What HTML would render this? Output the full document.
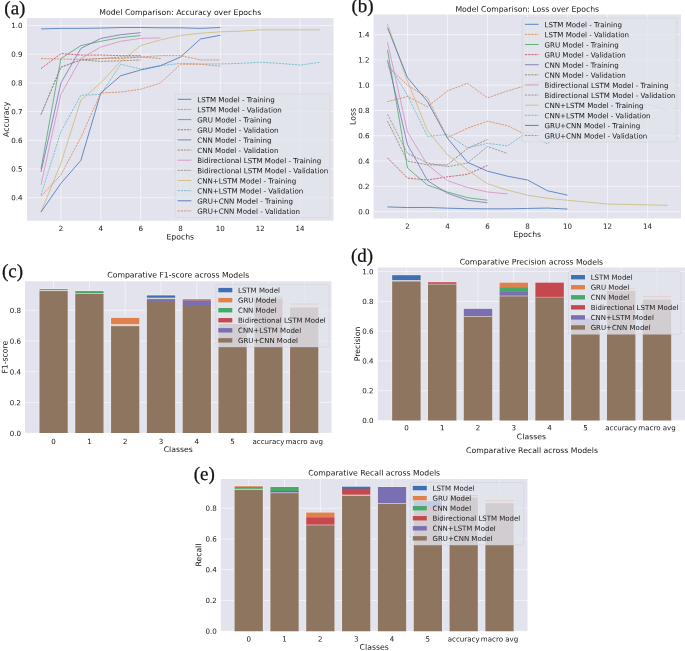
<!DOCTYPE html>
<html lang="en"><head><meta charset="utf-8"><title>Model comparison figure</title>
<style>
html,body{margin:0;padding:0;background:#fff;}
body{width:685px;height:651px;overflow:hidden;}
.pl{font-family:"Liberation Serif","Times New Roman",serif;font-size:19px;fill:#111;stroke:#111;stroke-width:0.25px;}
svg{display:block;filter:blur(0.3px);text-rendering:geometricPrecision;font-family:"DejaVu Sans","Liberation Sans",sans-serif;fill:#161616;}
</style></head><body>
<svg width="685" height="651" viewBox="0 0 685 651">
<rect width="685" height="651" fill="#fff"/>
<rect x="27" y="18" width="306.5" height="202.7" fill="#e2e3ec"/>
<line x1="60.93" y1="18" x2="60.93" y2="220.7" stroke="#fff" stroke-opacity="0.85" stroke-width="0.65"/>
<text transform="translate(60.93 231.00) rotate(0.03)" font-size="7.1" text-anchor="middle" >2</text>
<line x1="100.79" y1="18" x2="100.79" y2="220.7" stroke="#fff" stroke-opacity="0.85" stroke-width="0.65"/>
<text transform="translate(100.79 231.00) rotate(0.03)" font-size="7.1" text-anchor="middle" >4</text>
<line x1="140.65" y1="18" x2="140.65" y2="220.7" stroke="#fff" stroke-opacity="0.85" stroke-width="0.65"/>
<text transform="translate(140.65 231.00) rotate(0.03)" font-size="7.1" text-anchor="middle" >6</text>
<line x1="180.51" y1="18" x2="180.51" y2="220.7" stroke="#fff" stroke-opacity="0.85" stroke-width="0.65"/>
<text transform="translate(180.51 231.00) rotate(0.03)" font-size="7.1" text-anchor="middle" >8</text>
<line x1="220.37" y1="18" x2="220.37" y2="220.7" stroke="#fff" stroke-opacity="0.85" stroke-width="0.65"/>
<text transform="translate(220.37 231.00) rotate(0.03)" font-size="7.1" text-anchor="middle" >10</text>
<line x1="260.23" y1="18" x2="260.23" y2="220.7" stroke="#fff" stroke-opacity="0.85" stroke-width="0.65"/>
<text transform="translate(260.23 231.00) rotate(0.03)" font-size="7.1" text-anchor="middle" >12</text>
<line x1="300.09" y1="18" x2="300.09" y2="220.7" stroke="#fff" stroke-opacity="0.85" stroke-width="0.65"/>
<text transform="translate(300.09 231.00) rotate(0.03)" font-size="7.1" text-anchor="middle" >14</text>
<line x1="27" y1="197.70" x2="333.5" y2="197.70" stroke="#fff" stroke-opacity="0.85" stroke-width="0.65"/>
<text transform="translate(22.50 200.30) rotate(0.03)" font-size="7.1" text-anchor="end" >0.4</text>
<line x1="27" y1="169.00" x2="333.5" y2="169.00" stroke="#fff" stroke-opacity="0.85" stroke-width="0.65"/>
<text transform="translate(22.50 171.60) rotate(0.03)" font-size="7.1" text-anchor="end" >0.5</text>
<line x1="27" y1="140.30" x2="333.5" y2="140.30" stroke="#fff" stroke-opacity="0.85" stroke-width="0.65"/>
<text transform="translate(22.50 142.90) rotate(0.03)" font-size="7.1" text-anchor="end" >0.6</text>
<line x1="27" y1="111.60" x2="333.5" y2="111.60" stroke="#fff" stroke-opacity="0.85" stroke-width="0.65"/>
<text transform="translate(22.50 114.20) rotate(0.03)" font-size="7.1" text-anchor="end" >0.7</text>
<line x1="27" y1="82.90" x2="333.5" y2="82.90" stroke="#fff" stroke-opacity="0.85" stroke-width="0.65"/>
<text transform="translate(22.50 85.50) rotate(0.03)" font-size="7.1" text-anchor="end" >0.8</text>
<line x1="27" y1="54.20" x2="333.5" y2="54.20" stroke="#fff" stroke-opacity="0.85" stroke-width="0.65"/>
<text transform="translate(22.50 56.80) rotate(0.03)" font-size="7.1" text-anchor="end" >0.9</text>
<line x1="27" y1="25.50" x2="333.5" y2="25.50" stroke="#fff" stroke-opacity="0.85" stroke-width="0.65"/>
<text transform="translate(22.50 28.10) rotate(0.03)" font-size="7.1" text-anchor="end" >1.0</text>
<g fill="none" stroke-width="0.78" stroke-linejoin="round">
<polyline points="41.00,28.94 60.93,28.37 80.86,28.37 100.79,28.08 120.72,27.51 140.65,27.51 160.58,27.80 180.51,27.80 200.44,28.37 220.37,27.51" stroke="#4070b4"/>
<polyline points="41.00,58.50 60.93,59.08 80.86,59.37 100.79,58.50 120.72,58.50 140.65,57.07 160.58,55.63 180.51,55.63 200.44,59.94 220.37,59.94" stroke="#df814c" stroke-dasharray="2.2 1"/>
<polyline points="41.00,169.00 60.93,58.50 80.86,45.59 100.79,41.29 120.72,37.55 140.65,35.55" stroke="#48a868"/>
<polyline points="41.00,68.55 60.93,53.63 80.86,55.06 100.79,55.06 120.72,55.63 140.65,55.63" stroke="#c6484f" stroke-dasharray="2.2 1"/>
<polyline points="41.00,171.87 60.93,82.90 80.86,48.46 100.79,38.42 120.72,34.68 140.65,32.68" stroke="#7a6fb2"/>
<polyline points="41.00,114.47 60.93,67.12 80.86,59.94 100.79,61.38 120.72,60.80 140.65,59.94" stroke="#937860" stroke-dasharray="2.2 1"/>
<polyline points="41.00,184.78 60.93,94.38 80.86,58.50 100.79,47.02 120.72,41.29 140.65,38.42 160.58,37.84" stroke="#da8bc3"/>
<polyline points="41.00,114.47 60.93,67.12 80.86,59.94 100.79,58.50 120.72,57.07 140.65,57.07 160.58,58.50" stroke="#8c8c8c" stroke-dasharray="2.2 1"/>
<polyline points="41.00,212.05 60.93,163.26 80.86,100.12 100.79,82.90 120.72,61.38 140.65,45.59 160.58,39.85 180.51,35.55 200.44,33.25 220.37,31.81 240.30,31.24 260.23,29.81 280.16,29.81 300.09,29.81 320.02,29.81" stroke="#ccb974"/>
<polyline points="41.00,194.83 60.93,131.69 80.86,95.24 100.79,94.38 120.72,64.25 140.65,69.12 160.58,65.68 180.51,63.38 200.44,63.96 220.37,63.96 240.30,63.38 260.23,62.24 280.16,63.38 300.09,65.11 320.02,62.24" stroke="#64b5cd" stroke-dasharray="2.2 1"/>
<polyline points="41.00,212.05 60.93,183.35 80.86,160.39 100.79,92.94 120.72,75.73 140.65,69.99 160.58,65.68 180.51,57.07 200.44,38.99 220.37,35.26" stroke="#4070b4"/>
<polyline points="41.00,196.26 60.93,174.74 80.86,137.43 100.79,92.94 120.72,92.08 140.65,89.21 160.58,82.90 180.51,64.25 200.44,64.25 220.37,66.25" stroke="#df814c" stroke-dasharray="2.2 1"/>
</g>
<rect x="175" y="94" width="155" height="123.5" rx="1.5" fill="#e2e3ec" fill-opacity="0.8" stroke="#cfcfd6" stroke-width="0.5"/>
<line x1="177.70" y1="99.30" x2="191.30" y2="99.30" stroke="#4070b4" stroke-width="0.85"/>
<text transform="translate(197.20 102.20) rotate(0.03)" font-size="7.1" text-anchor="start" >LSTM Model - Training</text>
<line x1="177.70" y1="109.45" x2="191.30" y2="109.45" stroke="#df814c" stroke-width="0.85" stroke-dasharray="2.2 1"/>
<text transform="translate(197.20 112.35) rotate(0.03)" font-size="7.1" text-anchor="start" >LSTM Model - Validation</text>
<line x1="177.70" y1="119.60" x2="191.30" y2="119.60" stroke="#48a868" stroke-width="0.85"/>
<text transform="translate(197.20 122.50) rotate(0.03)" font-size="7.1" text-anchor="start" >GRU Model - Training</text>
<line x1="177.70" y1="129.75" x2="191.30" y2="129.75" stroke="#c6484f" stroke-width="0.85" stroke-dasharray="2.2 1"/>
<text transform="translate(197.20 132.65) rotate(0.03)" font-size="7.1" text-anchor="start" >GRU Model - Validation</text>
<line x1="177.70" y1="139.90" x2="191.30" y2="139.90" stroke="#7a6fb2" stroke-width="0.85"/>
<text transform="translate(197.20 142.80) rotate(0.03)" font-size="7.1" text-anchor="start" >CNN Model - Training</text>
<line x1="177.70" y1="150.05" x2="191.30" y2="150.05" stroke="#937860" stroke-width="0.85" stroke-dasharray="2.2 1"/>
<text transform="translate(197.20 152.95) rotate(0.03)" font-size="7.1" text-anchor="start" >CNN Model - Validation</text>
<line x1="177.70" y1="160.20" x2="191.30" y2="160.20" stroke="#da8bc3" stroke-width="0.85"/>
<text transform="translate(197.20 163.10) rotate(0.03)" font-size="7.1" text-anchor="start" >Bidirectional LSTM Model - Training</text>
<line x1="177.70" y1="170.35" x2="191.30" y2="170.35" stroke="#8c8c8c" stroke-width="0.85" stroke-dasharray="2.2 1"/>
<text transform="translate(197.20 173.25) rotate(0.03)" font-size="7.1" text-anchor="start" >Bidirectional LSTM Model - Validation</text>
<line x1="177.70" y1="180.50" x2="191.30" y2="180.50" stroke="#ccb974" stroke-width="0.85"/>
<text transform="translate(197.20 183.40) rotate(0.03)" font-size="7.1" text-anchor="start" >CNN+LSTM Model - Training</text>
<line x1="177.70" y1="190.65" x2="191.30" y2="190.65" stroke="#64b5cd" stroke-width="0.85" stroke-dasharray="2.2 1"/>
<text transform="translate(197.20 193.55) rotate(0.03)" font-size="7.1" text-anchor="start" >CNN+LSTM Model - Validation</text>
<line x1="177.70" y1="200.80" x2="191.30" y2="200.80" stroke="#4070b4" stroke-width="0.85"/>
<text transform="translate(197.20 203.70) rotate(0.03)" font-size="7.1" text-anchor="start" >GRU+CNN Model - Training</text>
<line x1="177.70" y1="210.95" x2="191.30" y2="210.95" stroke="#df814c" stroke-width="0.85" stroke-dasharray="2.2 1"/>
<text transform="translate(197.20 213.85) rotate(0.03)" font-size="7.1" text-anchor="start" >GRU+CNN Model - Validation</text>
<text transform="translate(180.25 14.90) rotate(0.03)" font-size="7.72" text-anchor="middle" >Model Comparison: Accuracy over Epochs</text>
<text transform="translate(180.25 239.50) rotate(0.03)" font-size="7.72" text-anchor="middle" >Epochs</text>
<text transform="translate(8.8,119.35) rotate(-89.97)" font-size="7.72" text-anchor="middle">Accuracy</text>
<rect x="373.5" y="14.5" width="307.5" height="204.0" fill="#e2e3ec"/>
<line x1="407.50" y1="14.5" x2="407.50" y2="218.5" stroke="#fff" stroke-opacity="0.85" stroke-width="0.65"/>
<text transform="translate(407.50 228.70) rotate(0.03)" font-size="7.1" text-anchor="middle" >2</text>
<line x1="447.50" y1="14.5" x2="447.50" y2="218.5" stroke="#fff" stroke-opacity="0.85" stroke-width="0.65"/>
<text transform="translate(447.50 228.70) rotate(0.03)" font-size="7.1" text-anchor="middle" >4</text>
<line x1="487.50" y1="14.5" x2="487.50" y2="218.5" stroke="#fff" stroke-opacity="0.85" stroke-width="0.65"/>
<text transform="translate(487.50 228.70) rotate(0.03)" font-size="7.1" text-anchor="middle" >6</text>
<line x1="527.50" y1="14.5" x2="527.50" y2="218.5" stroke="#fff" stroke-opacity="0.85" stroke-width="0.65"/>
<text transform="translate(527.50 228.70) rotate(0.03)" font-size="7.1" text-anchor="middle" >8</text>
<line x1="567.50" y1="14.5" x2="567.50" y2="218.5" stroke="#fff" stroke-opacity="0.85" stroke-width="0.65"/>
<text transform="translate(567.50 228.70) rotate(0.03)" font-size="7.1" text-anchor="middle" >10</text>
<line x1="607.50" y1="14.5" x2="607.50" y2="218.5" stroke="#fff" stroke-opacity="0.85" stroke-width="0.65"/>
<text transform="translate(607.50 228.70) rotate(0.03)" font-size="7.1" text-anchor="middle" >12</text>
<line x1="647.50" y1="14.5" x2="647.50" y2="218.5" stroke="#fff" stroke-opacity="0.85" stroke-width="0.65"/>
<text transform="translate(647.50 228.70) rotate(0.03)" font-size="7.1" text-anchor="middle" >14</text>
<line x1="373.5" y1="211.60" x2="681" y2="211.60" stroke="#fff" stroke-opacity="0.85" stroke-width="0.65"/>
<text transform="translate(369.50 214.20) rotate(0.03)" font-size="7.1" text-anchor="end" >0.0</text>
<line x1="373.5" y1="186.32" x2="681" y2="186.32" stroke="#fff" stroke-opacity="0.85" stroke-width="0.65"/>
<text transform="translate(369.50 188.92) rotate(0.03)" font-size="7.1" text-anchor="end" >0.2</text>
<line x1="373.5" y1="161.04" x2="681" y2="161.04" stroke="#fff" stroke-opacity="0.85" stroke-width="0.65"/>
<text transform="translate(369.50 163.64) rotate(0.03)" font-size="7.1" text-anchor="end" >0.4</text>
<line x1="373.5" y1="135.76" x2="681" y2="135.76" stroke="#fff" stroke-opacity="0.85" stroke-width="0.65"/>
<text transform="translate(369.50 138.36) rotate(0.03)" font-size="7.1" text-anchor="end" >0.6</text>
<line x1="373.5" y1="110.48" x2="681" y2="110.48" stroke="#fff" stroke-opacity="0.85" stroke-width="0.65"/>
<text transform="translate(369.50 113.08) rotate(0.03)" font-size="7.1" text-anchor="end" >0.8</text>
<line x1="373.5" y1="85.20" x2="681" y2="85.20" stroke="#fff" stroke-opacity="0.85" stroke-width="0.65"/>
<text transform="translate(369.50 87.80) rotate(0.03)" font-size="7.1" text-anchor="end" >1.0</text>
<line x1="373.5" y1="59.92" x2="681" y2="59.92" stroke="#fff" stroke-opacity="0.85" stroke-width="0.65"/>
<text transform="translate(369.50 62.52) rotate(0.03)" font-size="7.1" text-anchor="end" >1.2</text>
<line x1="373.5" y1="34.64" x2="681" y2="34.64" stroke="#fff" stroke-opacity="0.85" stroke-width="0.65"/>
<text transform="translate(369.50 37.24) rotate(0.03)" font-size="7.1" text-anchor="end" >1.4</text>
<g fill="none" stroke-width="0.78" stroke-linejoin="round">
<polyline points="387.50,206.92 407.50,207.56 427.50,207.43 447.50,208.19 467.50,208.69 487.50,208.82 507.50,208.82 527.50,208.44 547.50,208.06 567.50,209.07" stroke="#4070b4"/>
<polyline points="387.50,101.63 407.50,96.58 427.50,106.69 447.50,90.89 467.50,83.30 487.50,97.84 507.50,90.89 527.50,85.20 547.50,80.14 567.50,75.09" stroke="#df814c" stroke-dasharray="2.2 1"/>
<polyline points="387.50,49.81 407.50,167.99 427.50,185.06 447.50,192.01 467.50,197.70 487.50,200.22" stroke="#48a868"/>
<polyline points="387.50,157.88 407.50,178.10 427.50,180.00 447.50,176.84 467.50,174.31 487.50,165.46" stroke="#c6484f" stroke-dasharray="2.2 1"/>
<polyline points="387.50,59.92 407.50,144.61 427.50,180.63 447.50,193.27 467.50,200.22 487.50,202.75" stroke="#7a6fb2"/>
<polyline points="387.50,121.22 407.50,161.04 427.50,164.83 447.50,164.83 467.50,148.40 487.50,139.55" stroke="#937860" stroke-dasharray="2.2 1"/>
<polyline points="387.50,42.22 407.50,131.97 427.50,164.83 447.50,180.63 467.50,187.58 487.50,192.01 507.50,193.90" stroke="#da8bc3"/>
<polyline points="387.50,114.27 407.50,153.46 427.50,162.94 447.50,166.73 467.50,162.94 487.50,146.50 507.50,153.46" stroke="#8c8c8c" stroke-dasharray="2.2 1"/>
<polyline points="387.50,23.90 407.50,81.41 427.50,130.70 447.50,154.72 467.50,169.89 487.50,183.79 507.50,190.11 527.50,195.17 547.50,198.33 567.50,200.22 587.50,202.12 607.50,204.02 627.50,204.40 647.50,204.90 667.50,205.28" stroke="#ccb974"/>
<polyline points="387.50,62.45 407.50,95.31 427.50,136.39 447.50,134.50 467.50,147.77 487.50,143.34 507.50,145.87 527.50,131.97 547.50,143.98 567.50,125.02 587.50,116.80 607.50,110.48 627.50,106.69 647.50,104.16 667.50,110.48" stroke="#64b5cd" stroke-dasharray="2.2 1"/>
<polyline points="387.50,27.69 407.50,77.62 427.50,101.63 447.50,138.29 467.50,162.30 487.50,171.15 507.50,176.21 527.50,180.00 547.50,190.74 567.50,195.17" stroke="#4070b4"/>
<polyline points="387.50,66.24 407.50,85.20 427.50,97.84 447.50,137.66 467.50,128.18 487.50,121.22 507.50,125.65 527.50,135.76 547.50,128.18 567.50,123.12" stroke="#df814c" stroke-dasharray="2.2 1"/>
</g>
<rect x="522.3" y="18" width="154.5" height="124" rx="1.5" fill="#e2e3ec" fill-opacity="0.8" stroke="#cfcfd6" stroke-width="0.5"/>
<line x1="525.00" y1="24.30" x2="538.60" y2="24.30" stroke="#4070b4" stroke-width="0.85"/>
<text transform="translate(544.50 27.20) rotate(0.03)" font-size="7.1" text-anchor="start" >LSTM Model - Training</text>
<line x1="525.00" y1="34.41" x2="538.60" y2="34.41" stroke="#df814c" stroke-width="0.85" stroke-dasharray="2.2 1"/>
<text transform="translate(544.50 37.31) rotate(0.03)" font-size="7.1" text-anchor="start" >LSTM Model - Validation</text>
<line x1="525.00" y1="44.52" x2="538.60" y2="44.52" stroke="#48a868" stroke-width="0.85"/>
<text transform="translate(544.50 47.42) rotate(0.03)" font-size="7.1" text-anchor="start" >GRU Model - Training</text>
<line x1="525.00" y1="54.63" x2="538.60" y2="54.63" stroke="#c6484f" stroke-width="0.85" stroke-dasharray="2.2 1"/>
<text transform="translate(544.50 57.53) rotate(0.03)" font-size="7.1" text-anchor="start" >GRU Model - Validation</text>
<line x1="525.00" y1="64.74" x2="538.60" y2="64.74" stroke="#7a6fb2" stroke-width="0.85"/>
<text transform="translate(544.50 67.64) rotate(0.03)" font-size="7.1" text-anchor="start" >CNN Model - Training</text>
<line x1="525.00" y1="74.85" x2="538.60" y2="74.85" stroke="#937860" stroke-width="0.85" stroke-dasharray="2.2 1"/>
<text transform="translate(544.50 77.75) rotate(0.03)" font-size="7.1" text-anchor="start" >CNN Model - Validation</text>
<line x1="525.00" y1="84.96" x2="538.60" y2="84.96" stroke="#da8bc3" stroke-width="0.85"/>
<text transform="translate(544.50 87.86) rotate(0.03)" font-size="7.1" text-anchor="start" >Bidirectional LSTM Model - Training</text>
<line x1="525.00" y1="95.07" x2="538.60" y2="95.07" stroke="#8c8c8c" stroke-width="0.85" stroke-dasharray="2.2 1"/>
<text transform="translate(544.50 97.97) rotate(0.03)" font-size="7.1" text-anchor="start" >Bidirectional LSTM Model - Validation</text>
<line x1="525.00" y1="105.18" x2="538.60" y2="105.18" stroke="#ccb974" stroke-width="0.85"/>
<text transform="translate(544.50 108.08) rotate(0.03)" font-size="7.1" text-anchor="start" >CNN+LSTM Model - Training</text>
<line x1="525.00" y1="115.29" x2="538.60" y2="115.29" stroke="#64b5cd" stroke-width="0.85" stroke-dasharray="2.2 1"/>
<text transform="translate(544.50 118.19) rotate(0.03)" font-size="7.1" text-anchor="start" >CNN+LSTM Model - Validation</text>
<line x1="525.00" y1="125.40" x2="538.60" y2="125.40" stroke="#4070b4" stroke-width="0.85"/>
<text transform="translate(544.50 128.30) rotate(0.03)" font-size="7.1" text-anchor="start" >GRU+CNN Model - Training</text>
<line x1="525.00" y1="135.51" x2="538.60" y2="135.51" stroke="#df814c" stroke-width="0.85" stroke-dasharray="2.2 1"/>
<text transform="translate(544.50 138.41) rotate(0.03)" font-size="7.1" text-anchor="start" >GRU+CNN Model - Validation</text>
<text transform="translate(527.25 11.80) rotate(0.03)" font-size="7.72" text-anchor="middle" >Model Comparison: Loss over Epochs</text>
<text transform="translate(527.25 237.00) rotate(0.03)" font-size="7.72" text-anchor="middle" >Epochs</text>
<text transform="translate(355.5,116.50) rotate(-89.97)" font-size="7.72" text-anchor="middle">Loss</text>
<rect x="25" y="281.3" width="306.5" height="151.7" fill="#e2e3ec"/>
<line x1="53.60" y1="281.3" x2="53.60" y2="433" stroke="#fff" stroke-opacity="0.85" stroke-width="0.65"/>
<text transform="translate(53.60 444.00) rotate(0.03)" font-size="7.1" text-anchor="middle" >0</text>
<line x1="89.40" y1="281.3" x2="89.40" y2="433" stroke="#fff" stroke-opacity="0.85" stroke-width="0.65"/>
<text transform="translate(89.40 444.00) rotate(0.03)" font-size="7.1" text-anchor="middle" >1</text>
<line x1="125.20" y1="281.3" x2="125.20" y2="433" stroke="#fff" stroke-opacity="0.85" stroke-width="0.65"/>
<text transform="translate(125.20 444.00) rotate(0.03)" font-size="7.1" text-anchor="middle" >2</text>
<line x1="161.00" y1="281.3" x2="161.00" y2="433" stroke="#fff" stroke-opacity="0.85" stroke-width="0.65"/>
<text transform="translate(161.00 444.00) rotate(0.03)" font-size="7.1" text-anchor="middle" >3</text>
<line x1="196.80" y1="281.3" x2="196.80" y2="433" stroke="#fff" stroke-opacity="0.85" stroke-width="0.65"/>
<text transform="translate(196.80 444.00) rotate(0.03)" font-size="7.1" text-anchor="middle" >4</text>
<line x1="232.60" y1="281.3" x2="232.60" y2="433" stroke="#fff" stroke-opacity="0.85" stroke-width="0.65"/>
<text transform="translate(232.60 444.00) rotate(0.03)" font-size="7.1" text-anchor="middle" >5</text>
<line x1="268.40" y1="281.3" x2="268.40" y2="433" stroke="#fff" stroke-opacity="0.85" stroke-width="0.65"/>
<text transform="translate(268.40 444.00) rotate(0.03)" font-size="7.1" text-anchor="middle" >accuracy</text>
<line x1="304.20" y1="281.3" x2="304.20" y2="433" stroke="#fff" stroke-opacity="0.85" stroke-width="0.65"/>
<text transform="translate(304.20 444.00) rotate(0.03)" font-size="7.1" text-anchor="middle" >macro avg</text>
<line x1="25" y1="433.30" x2="331.5" y2="433.30" stroke="#fff" stroke-opacity="0.85" stroke-width="0.65"/>
<text transform="translate(21.00 435.90) rotate(0.03)" font-size="7.1" text-anchor="end" >0.0</text>
<line x1="25" y1="402.55" x2="331.5" y2="402.55" stroke="#fff" stroke-opacity="0.85" stroke-width="0.65"/>
<text transform="translate(21.00 405.15) rotate(0.03)" font-size="7.1" text-anchor="end" >0.2</text>
<line x1="25" y1="371.80" x2="331.5" y2="371.80" stroke="#fff" stroke-opacity="0.85" stroke-width="0.65"/>
<text transform="translate(21.00 374.40) rotate(0.03)" font-size="7.1" text-anchor="end" >0.4</text>
<line x1="25" y1="341.05" x2="331.5" y2="341.05" stroke="#fff" stroke-opacity="0.85" stroke-width="0.65"/>
<text transform="translate(21.00 343.65) rotate(0.03)" font-size="7.1" text-anchor="end" >0.6</text>
<line x1="25" y1="310.30" x2="331.5" y2="310.30" stroke="#fff" stroke-opacity="0.85" stroke-width="0.65"/>
<text transform="translate(21.00 312.90) rotate(0.03)" font-size="7.1" text-anchor="end" >0.8</text>
<clipPath id="cp25"><rect x="25" y="281.3" width="306.5" height="151.7"/></clipPath>
<g clip-path="url(#cp25)">
<rect x="38.95" y="288.58" width="29.30" height="143.02" fill="#f4f2f4"/>
<rect x="39.45" y="289.08" width="28.30" height="1.48" fill="#48a868"/>
<rect x="39.45" y="290.16" width="28.30" height="1.32" fill="#e6dcdc"/>
<rect x="39.45" y="291.08" width="28.30" height="144.22" fill="#8d7560"/>
<rect x="74.75" y="290.58" width="29.30" height="141.02" fill="#f4f2f4"/>
<rect x="75.25" y="291.08" width="28.30" height="2.55" fill="#48a868"/>
<rect x="75.25" y="293.23" width="28.30" height="1.01" fill="#e6dcdc"/>
<rect x="75.25" y="293.85" width="28.30" height="141.45" fill="#8d7560"/>
<rect x="110.55" y="317.33" width="29.30" height="114.27" fill="#f4f2f4"/>
<rect x="111.05" y="317.83" width="28.30" height="6.70" fill="#df814c"/>
<rect x="111.05" y="324.14" width="28.30" height="2.40" fill="#ecd2ca"/>
<rect x="111.05" y="326.14" width="28.30" height="109.16" fill="#8d7560"/>
<rect x="146.35" y="294.58" width="29.30" height="137.02" fill="#f4f2f4"/>
<rect x="146.85" y="295.08" width="28.30" height="1.32" fill="#df814c"/>
<rect x="146.85" y="296.00" width="28.30" height="1.48" fill="#4070b4"/>
<rect x="146.85" y="297.08" width="28.30" height="1.48" fill="#48a868"/>
<rect x="146.85" y="298.15" width="28.30" height="1.32" fill="#e6dcdc"/>
<rect x="146.85" y="299.08" width="28.30" height="2.86" fill="#7a6fb2"/>
<rect x="146.85" y="301.54" width="28.30" height="133.76" fill="#8d7560"/>
<rect x="182.15" y="298.58" width="29.30" height="133.02" fill="#f4f2f4"/>
<rect x="182.65" y="299.08" width="28.30" height="1.78" fill="#df814c"/>
<rect x="182.65" y="300.46" width="28.30" height="5.63" fill="#7a6fb2"/>
<rect x="182.65" y="305.69" width="28.30" height="129.61" fill="#8d7560"/>
<rect x="217.95" y="323.48" width="29.30" height="108.12" fill="#f4f2f4"/>
<rect x="218.45" y="323.98" width="28.30" height="111.32" fill="#8d7560"/>
<rect x="253.75" y="296.12" width="29.30" height="135.48" fill="#f4f2f4"/>
<rect x="254.25" y="296.62" width="28.30" height="1.17" fill="#48a868"/>
<rect x="254.25" y="297.38" width="28.30" height="1.78" fill="#e6dcdc"/>
<rect x="254.25" y="298.77" width="28.30" height="136.53" fill="#8d7560"/>
<rect x="289.55" y="302.73" width="29.30" height="128.87" fill="#f4f2f4"/>
<rect x="290.05" y="303.23" width="28.30" height="1.94" fill="#e9a57f"/>
<rect x="290.05" y="304.76" width="28.30" height="3.17" fill="#e6dcdc"/>
<rect x="290.05" y="307.53" width="28.30" height="127.77" fill="#8d7560"/>
</g>
<rect x="215.8" y="284.5" width="113.19999999999999" height="62.39999999999998" rx="1.5" fill="#e2e3ec" fill-opacity="0.8" stroke="#cfcfd6" stroke-width="0.5"/>
<rect x="218.30" y="287.90" width="14" height="4.4" fill="#4070b4"/>
<text transform="translate(238.00 292.65) rotate(0.03)" font-size="7.0" text-anchor="start" >LSTM Model</text>
<rect x="218.30" y="297.95" width="14" height="4.4" fill="#df814c"/>
<text transform="translate(238.00 302.70) rotate(0.03)" font-size="7.0" text-anchor="start" >GRU Model</text>
<rect x="218.30" y="308.00" width="14" height="4.4" fill="#48a868"/>
<text transform="translate(238.00 312.75) rotate(0.03)" font-size="7.0" text-anchor="start" >CNN Model</text>
<rect x="218.30" y="318.05" width="14" height="4.4" fill="#c6484f"/>
<text transform="translate(238.00 322.80) rotate(0.03)" font-size="7.0" text-anchor="start" >Bidirectional LSTM Model</text>
<rect x="218.30" y="328.10" width="14" height="4.4" fill="#7a6fb2"/>
<text transform="translate(238.00 332.85) rotate(0.03)" font-size="7.0" text-anchor="start" >CNN+LSTM Model</text>
<rect x="218.30" y="338.15" width="14" height="4.4" fill="#8d7560"/>
<text transform="translate(238.00 342.90) rotate(0.03)" font-size="7.0" text-anchor="start" >GRU+CNN Model</text>
<text transform="translate(178.25 277.60) rotate(0.03)" font-size="7.72" text-anchor="middle" >Comparative F1-score across Models</text>
<text transform="translate(178.25 452.00) rotate(0.03)" font-size="7.72" text-anchor="middle" >Classes</text>
<text transform="translate(7.5,357.15) rotate(-89.97)" font-size="7.72" text-anchor="middle">F1-score</text>
<rect x="377.8" y="267.5" width="307.2" height="152.89999999999998" fill="#e2e3ec"/>
<line x1="406.40" y1="267.5" x2="406.40" y2="420.4" stroke="#fff" stroke-opacity="0.85" stroke-width="0.65"/>
<text transform="translate(406.40 430.20) rotate(0.03)" font-size="7.1" text-anchor="middle" >0</text>
<line x1="442.20" y1="267.5" x2="442.20" y2="420.4" stroke="#fff" stroke-opacity="0.85" stroke-width="0.65"/>
<text transform="translate(442.20 430.20) rotate(0.03)" font-size="7.1" text-anchor="middle" >1</text>
<line x1="478.00" y1="267.5" x2="478.00" y2="420.4" stroke="#fff" stroke-opacity="0.85" stroke-width="0.65"/>
<text transform="translate(478.00 430.20) rotate(0.03)" font-size="7.1" text-anchor="middle" >2</text>
<line x1="513.80" y1="267.5" x2="513.80" y2="420.4" stroke="#fff" stroke-opacity="0.85" stroke-width="0.65"/>
<text transform="translate(513.80 430.20) rotate(0.03)" font-size="7.1" text-anchor="middle" >3</text>
<line x1="549.60" y1="267.5" x2="549.60" y2="420.4" stroke="#fff" stroke-opacity="0.85" stroke-width="0.65"/>
<text transform="translate(549.60 430.20) rotate(0.03)" font-size="7.1" text-anchor="middle" >4</text>
<line x1="585.40" y1="267.5" x2="585.40" y2="420.4" stroke="#fff" stroke-opacity="0.85" stroke-width="0.65"/>
<text transform="translate(585.40 430.20) rotate(0.03)" font-size="7.1" text-anchor="middle" >5</text>
<line x1="621.20" y1="267.5" x2="621.20" y2="420.4" stroke="#fff" stroke-opacity="0.85" stroke-width="0.65"/>
<text transform="translate(621.20 430.20) rotate(0.03)" font-size="7.1" text-anchor="middle" >accuracy</text>
<line x1="657.00" y1="267.5" x2="657.00" y2="420.4" stroke="#fff" stroke-opacity="0.85" stroke-width="0.65"/>
<text transform="translate(657.00 430.20) rotate(0.03)" font-size="7.1" text-anchor="middle" >macro avg</text>
<line x1="377.8" y1="420.40" x2="685" y2="420.40" stroke="#fff" stroke-opacity="0.85" stroke-width="0.65"/>
<text transform="translate(373.50 423.00) rotate(0.03)" font-size="7.1" text-anchor="end" >0.0</text>
<line x1="377.8" y1="390.64" x2="685" y2="390.64" stroke="#fff" stroke-opacity="0.85" stroke-width="0.65"/>
<text transform="translate(373.50 393.24) rotate(0.03)" font-size="7.1" text-anchor="end" >0.2</text>
<line x1="377.8" y1="360.88" x2="685" y2="360.88" stroke="#fff" stroke-opacity="0.85" stroke-width="0.65"/>
<text transform="translate(373.50 363.48) rotate(0.03)" font-size="7.1" text-anchor="end" >0.4</text>
<line x1="377.8" y1="331.12" x2="685" y2="331.12" stroke="#fff" stroke-opacity="0.85" stroke-width="0.65"/>
<text transform="translate(373.50 333.72) rotate(0.03)" font-size="7.1" text-anchor="end" >0.6</text>
<line x1="377.8" y1="301.36" x2="685" y2="301.36" stroke="#fff" stroke-opacity="0.85" stroke-width="0.65"/>
<text transform="translate(373.50 303.96) rotate(0.03)" font-size="7.1" text-anchor="end" >0.8</text>
<line x1="377.8" y1="271.60" x2="685" y2="271.60" stroke="#fff" stroke-opacity="0.85" stroke-width="0.65"/>
<text transform="translate(373.50 274.20) rotate(0.03)" font-size="7.1" text-anchor="end" >1.0</text>
<clipPath id="cp377"><rect x="377.8" y="267.5" width="307.2" height="152.89999999999998"/></clipPath>
<g clip-path="url(#cp377)">
<rect x="391.65" y="274.67" width="29.50" height="144.03" fill="#f4f2f4"/>
<rect x="392.15" y="275.17" width="28.50" height="5.46" fill="#4070b4"/>
<rect x="392.15" y="280.23" width="28.50" height="1.59" fill="#e6dcdc"/>
<rect x="392.15" y="281.42" width="28.50" height="140.98" fill="#8d7560"/>
<rect x="427.45" y="281.66" width="29.50" height="137.04" fill="#f4f2f4"/>
<rect x="427.95" y="282.16" width="28.50" height="2.04" fill="#c6484f"/>
<rect x="427.95" y="283.80" width="28.50" height="1.00" fill="#e6dcdc"/>
<rect x="427.95" y="284.40" width="28.50" height="138.00" fill="#8d7560"/>
<rect x="463.25" y="308.30" width="29.50" height="110.40" fill="#f4f2f4"/>
<rect x="463.75" y="308.80" width="28.50" height="7.69" fill="#7a6fb2"/>
<rect x="463.75" y="316.09" width="28.50" height="1.00" fill="#e6dcdc"/>
<rect x="463.75" y="316.69" width="28.50" height="105.71" fill="#8d7560"/>
<rect x="499.05" y="282.11" width="29.50" height="136.59" fill="#f4f2f4"/>
<rect x="499.55" y="282.61" width="28.50" height="5.46" fill="#df814c"/>
<rect x="499.55" y="287.67" width="28.50" height="4.12" fill="#48a868"/>
<rect x="499.55" y="291.39" width="28.50" height="4.72" fill="#7a6fb2"/>
<rect x="499.55" y="295.71" width="28.50" height="1.00" fill="#e6dcdc"/>
<rect x="499.55" y="296.30" width="28.50" height="126.10" fill="#8d7560"/>
<rect x="534.85" y="282.11" width="29.50" height="136.59" fill="#f4f2f4"/>
<rect x="535.35" y="282.61" width="28.50" height="14.68" fill="#c6484f"/>
<rect x="535.35" y="296.90" width="28.50" height="0.85" fill="#e6dcdc"/>
<rect x="535.35" y="297.34" width="28.50" height="125.06" fill="#8d7560"/>
<rect x="570.65" y="318.12" width="29.50" height="100.58" fill="#f4f2f4"/>
<rect x="571.15" y="318.62" width="28.50" height="5.46" fill="#7a6fb2"/>
<rect x="571.15" y="323.68" width="28.50" height="98.72" fill="#8d7560"/>
<rect x="606.45" y="287.17" width="29.50" height="131.53" fill="#f4f2f4"/>
<rect x="606.95" y="287.67" width="28.50" height="1.44" fill="#df814c"/>
<rect x="606.95" y="288.71" width="28.50" height="2.63" fill="#e6dcdc"/>
<rect x="606.95" y="290.94" width="28.50" height="131.46" fill="#8d7560"/>
<rect x="642.25" y="295.35" width="29.50" height="123.35" fill="#f4f2f4"/>
<rect x="642.75" y="295.85" width="28.50" height="1.44" fill="#df814c"/>
<rect x="642.75" y="296.90" width="28.50" height="3.08" fill="#e6dcdc"/>
<rect x="642.75" y="299.57" width="28.50" height="122.83" fill="#8d7560"/>
</g>
<rect x="568.5" y="271.5" width="112.5" height="62.69999999999999" rx="1.5" fill="#e2e3ec" fill-opacity="0.8" stroke="#cfcfd6" stroke-width="0.5"/>
<rect x="571.00" y="275.00" width="14" height="4.4" fill="#4070b4"/>
<text transform="translate(590.70 279.75) rotate(0.03)" font-size="7.0" text-anchor="start" >LSTM Model</text>
<rect x="571.00" y="285.05" width="14" height="4.4" fill="#df814c"/>
<text transform="translate(590.70 289.80) rotate(0.03)" font-size="7.0" text-anchor="start" >GRU Model</text>
<rect x="571.00" y="295.10" width="14" height="4.4" fill="#48a868"/>
<text transform="translate(590.70 299.85) rotate(0.03)" font-size="7.0" text-anchor="start" >CNN Model</text>
<rect x="571.00" y="305.15" width="14" height="4.4" fill="#c6484f"/>
<text transform="translate(590.70 309.90) rotate(0.03)" font-size="7.0" text-anchor="start" >Bidirectional LSTM Model</text>
<rect x="571.00" y="315.20" width="14" height="4.4" fill="#7a6fb2"/>
<text transform="translate(590.70 319.95) rotate(0.03)" font-size="7.0" text-anchor="start" >CNN+LSTM Model</text>
<rect x="571.00" y="325.25" width="14" height="4.4" fill="#8d7560"/>
<text transform="translate(590.70 330.00) rotate(0.03)" font-size="7.0" text-anchor="start" >GRU+CNN Model</text>
<text transform="translate(531.40 264.60) rotate(0.03)" font-size="7.72" text-anchor="middle" >Comparative Precision across Models</text>
<text transform="translate(531.40 439.20) rotate(0.03)" font-size="7.72" text-anchor="middle" >Classes</text>
<text transform="translate(360,343.95) rotate(-89.97)" font-size="7.72" text-anchor="middle">Precision</text>
<rect x="220.8" y="479" width="306.7" height="152.20000000000005" fill="#e2e3ec"/>
<line x1="248.70" y1="479" x2="248.70" y2="631.2" stroke="#fff" stroke-opacity="0.85" stroke-width="0.65"/>
<text transform="translate(248.70 641.50) rotate(0.03)" font-size="7.1" text-anchor="middle" >0</text>
<line x1="284.53" y1="479" x2="284.53" y2="631.2" stroke="#fff" stroke-opacity="0.85" stroke-width="0.65"/>
<text transform="translate(284.53 641.50) rotate(0.03)" font-size="7.1" text-anchor="middle" >1</text>
<line x1="320.36" y1="479" x2="320.36" y2="631.2" stroke="#fff" stroke-opacity="0.85" stroke-width="0.65"/>
<text transform="translate(320.36 641.50) rotate(0.03)" font-size="7.1" text-anchor="middle" >2</text>
<line x1="356.19" y1="479" x2="356.19" y2="631.2" stroke="#fff" stroke-opacity="0.85" stroke-width="0.65"/>
<text transform="translate(356.19 641.50) rotate(0.03)" font-size="7.1" text-anchor="middle" >3</text>
<line x1="392.02" y1="479" x2="392.02" y2="631.2" stroke="#fff" stroke-opacity="0.85" stroke-width="0.65"/>
<text transform="translate(392.02 641.50) rotate(0.03)" font-size="7.1" text-anchor="middle" >4</text>
<line x1="427.85" y1="479" x2="427.85" y2="631.2" stroke="#fff" stroke-opacity="0.85" stroke-width="0.65"/>
<text transform="translate(427.85 641.50) rotate(0.03)" font-size="7.1" text-anchor="middle" >5</text>
<line x1="463.68" y1="479" x2="463.68" y2="631.2" stroke="#fff" stroke-opacity="0.85" stroke-width="0.65"/>
<text transform="translate(463.68 641.50) rotate(0.03)" font-size="7.1" text-anchor="middle" >accuracy</text>
<line x1="499.51" y1="479" x2="499.51" y2="631.2" stroke="#fff" stroke-opacity="0.85" stroke-width="0.65"/>
<text transform="translate(499.51 641.50) rotate(0.03)" font-size="7.1" text-anchor="middle" >macro avg</text>
<line x1="220.8" y1="631.20" x2="527.5" y2="631.20" stroke="#fff" stroke-opacity="0.85" stroke-width="0.65"/>
<text transform="translate(216.80 633.80) rotate(0.03)" font-size="7.1" text-anchor="end" >0.0</text>
<line x1="220.8" y1="600.45" x2="527.5" y2="600.45" stroke="#fff" stroke-opacity="0.85" stroke-width="0.65"/>
<text transform="translate(216.80 603.05) rotate(0.03)" font-size="7.1" text-anchor="end" >0.2</text>
<line x1="220.8" y1="569.70" x2="527.5" y2="569.70" stroke="#fff" stroke-opacity="0.85" stroke-width="0.65"/>
<text transform="translate(216.80 572.30) rotate(0.03)" font-size="7.1" text-anchor="end" >0.4</text>
<line x1="220.8" y1="538.95" x2="527.5" y2="538.95" stroke="#fff" stroke-opacity="0.85" stroke-width="0.65"/>
<text transform="translate(216.80 541.55) rotate(0.03)" font-size="7.1" text-anchor="end" >0.6</text>
<line x1="220.8" y1="508.20" x2="527.5" y2="508.20" stroke="#fff" stroke-opacity="0.85" stroke-width="0.65"/>
<text transform="translate(216.80 510.80) rotate(0.03)" font-size="7.1" text-anchor="end" >0.8</text>
<clipPath id="cp220"><rect x="220.8" y="479" width="306.7" height="152.20000000000005"/></clipPath>
<g clip-path="url(#cp220)">
<rect x="234.05" y="485.71" width="29.30" height="143.79" fill="#f4f2f4"/>
<rect x="234.55" y="486.21" width="28.30" height="1.17" fill="#df814c"/>
<rect x="234.55" y="486.98" width="28.30" height="2.24" fill="#48a868"/>
<rect x="234.55" y="488.83" width="28.30" height="1.32" fill="#e6dcdc"/>
<rect x="234.55" y="489.75" width="28.30" height="143.45" fill="#8d7560"/>
<rect x="269.88" y="486.48" width="29.30" height="143.02" fill="#f4f2f4"/>
<rect x="270.38" y="486.98" width="28.30" height="4.40" fill="#48a868"/>
<rect x="270.38" y="490.98" width="28.30" height="1.01" fill="#4070b4"/>
<rect x="270.38" y="491.60" width="28.30" height="1.32" fill="#7a6fb2"/>
<rect x="270.38" y="492.52" width="28.30" height="1.01" fill="#e6dcdc"/>
<rect x="270.38" y="493.13" width="28.30" height="140.07" fill="#8d7560"/>
<rect x="305.71" y="512.00" width="29.30" height="117.50" fill="#f4f2f4"/>
<rect x="306.21" y="512.50" width="28.30" height="5.32" fill="#df814c"/>
<rect x="306.21" y="517.43" width="28.30" height="7.63" fill="#c6484f"/>
<rect x="306.21" y="524.65" width="28.30" height="1.01" fill="#e6dcdc"/>
<rect x="306.21" y="525.27" width="28.30" height="107.93" fill="#8d7560"/>
<rect x="341.54" y="486.18" width="29.30" height="143.32" fill="#f4f2f4"/>
<rect x="342.04" y="486.68" width="28.30" height="2.40" fill="#4070b4"/>
<rect x="342.04" y="488.67" width="28.30" height="6.40" fill="#c6484f"/>
<rect x="342.04" y="494.67" width="28.30" height="1.48" fill="#e6dcdc"/>
<rect x="342.04" y="495.75" width="28.30" height="137.45" fill="#8d7560"/>
<rect x="377.37" y="486.48" width="29.30" height="143.02" fill="#f4f2f4"/>
<rect x="377.87" y="486.98" width="28.30" height="16.54" fill="#7a6fb2"/>
<rect x="377.87" y="503.13" width="28.30" height="1.01" fill="#e6dcdc"/>
<rect x="377.87" y="503.74" width="28.30" height="129.46" fill="#8d7560"/>
<rect x="413.20" y="500.63" width="29.30" height="128.87" fill="#f4f2f4"/>
<rect x="413.70" y="501.13" width="28.30" height="5.93" fill="#4070b4"/>
<rect x="413.70" y="506.66" width="28.30" height="4.24" fill="#c6484f"/>
<rect x="413.70" y="510.51" width="28.30" height="122.69" fill="#8d7560"/>
<rect x="449.03" y="494.48" width="29.30" height="135.02" fill="#f4f2f4"/>
<rect x="449.53" y="494.98" width="28.30" height="1.32" fill="#48a868"/>
<rect x="449.53" y="495.90" width="28.30" height="1.94" fill="#e6dcdc"/>
<rect x="449.53" y="497.44" width="28.30" height="135.76" fill="#8d7560"/>
<rect x="484.86" y="499.40" width="29.30" height="130.10" fill="#f4f2f4"/>
<rect x="485.36" y="499.90" width="28.30" height="1.32" fill="#df814c"/>
<rect x="485.36" y="500.82" width="28.30" height="2.71" fill="#e6dcdc"/>
<rect x="485.36" y="503.13" width="28.30" height="130.07" fill="#8d7560"/>
</g>
<rect x="410.3" y="482.5" width="113.49999999999994" height="62.5" rx="1.5" fill="#e2e3ec" fill-opacity="0.8" stroke="#cfcfd6" stroke-width="0.5"/>
<rect x="412.80" y="485.90" width="14" height="4.4" fill="#4070b4"/>
<text transform="translate(432.50 490.65) rotate(0.03)" font-size="7.0" text-anchor="start" >LSTM Model</text>
<rect x="412.80" y="495.95" width="14" height="4.4" fill="#df814c"/>
<text transform="translate(432.50 500.70) rotate(0.03)" font-size="7.0" text-anchor="start" >GRU Model</text>
<rect x="412.80" y="506.00" width="14" height="4.4" fill="#48a868"/>
<text transform="translate(432.50 510.75) rotate(0.03)" font-size="7.0" text-anchor="start" >CNN Model</text>
<rect x="412.80" y="516.05" width="14" height="4.4" fill="#c6484f"/>
<text transform="translate(432.50 520.80) rotate(0.03)" font-size="7.0" text-anchor="start" >Bidirectional LSTM Model</text>
<rect x="412.80" y="526.10" width="14" height="4.4" fill="#7a6fb2"/>
<text transform="translate(432.50 530.85) rotate(0.03)" font-size="7.0" text-anchor="start" >CNN+LSTM Model</text>
<rect x="412.80" y="536.15" width="14" height="4.4" fill="#8d7560"/>
<text transform="translate(432.50 540.90) rotate(0.03)" font-size="7.0" text-anchor="start" >GRU+CNN Model</text>
<text transform="translate(374.15 475.50) rotate(0.03)" font-size="7.72" text-anchor="middle" >Comparative Recall across Models</text>
<text transform="translate(374.15 649.70) rotate(0.03)" font-size="7.72" text-anchor="middle" >Classes</text>
<text transform="translate(201.2,555.10) rotate(-89.97)" font-size="7.72" text-anchor="middle">Recall</text>
<text transform="translate(532.00 453.00) rotate(0.03)" font-size="7.72" text-anchor="middle" >Comparative Recall across Models</text>
<text class="pl" transform="translate(4.3 14.3) rotate(0.03)">(a)</text>
<text class="pl" transform="translate(351.5 12.0) rotate(0.03)">(b)</text>
<text class="pl" transform="translate(2 277.3) rotate(0.03)">(c)</text>
<text class="pl" transform="translate(351 261.8) rotate(0.03)">(d)</text>
<text class="pl" transform="translate(193.7 480) rotate(0.03)">(e)</text>
</svg>
</body></html>
